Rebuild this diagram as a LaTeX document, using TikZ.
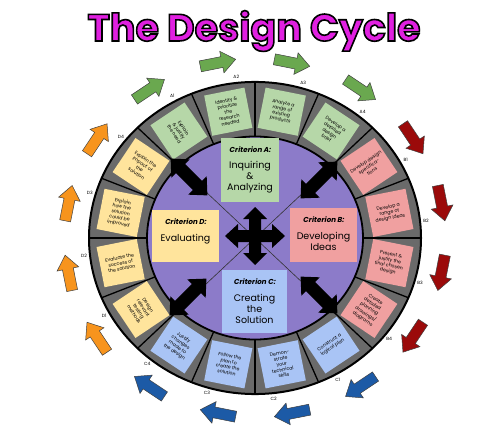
\documentclass[tikz,border=0pt]{standalone}
\usepackage{fontspec}
\setmainfont{Poppins}
\newfontfamily\critfont[FakeSlant=0.2]{Poppins}
\usetikzlibrary{shapes.arrows}
\definecolor{ringgray}{HTML}{6A6A6A}
\definecolor{purp}{HTML}{8C7BC9}
\definecolor{cA}{HTML}{B6D7A8}
\definecolor{cB}{HTML}{F0A0A0}
\definecolor{cC}{HTML}{A9C4F5}
\definecolor{cD}{HTML}{FFE49C}
\definecolor{aA}{HTML}{6AA84F}
\definecolor{aB}{HTML}{9B0A0A}
\definecolor{aC}{HTML}{1C5AA6}
\definecolor{aD}{HTML}{F7941D}
\definecolor{titlemag}{HTML}{E020E0}
\tikzset{
  titletext/.style={font=\fontsize{38}{42}\selectfont\bfseries, inner sep=0},
  card/.style={minimum width=41pt, minimum height=41pt, inner sep=0},
  cardtext/.style={font=\fontsize{4.7}{5.6}\selectfont, align=center, inner sep=0},
  outarrow/.style={draw=black!75, line width=0.5pt},
  steplabel/.style={font=\fontsize{4.5}{5}\selectfont, inner sep=0},
  critbox/.style={inner sep=0},
  crittext/.style={align=center, inner sep=0, font=\fontsize{9.5}{11}\selectfont},
  bigarrow/.style={fill=black},
}
\newcommand\crit[1]{{\critfont\bfseries\fontsize{7.2}{8}\selectfont Criterion #1:}}
\newcommand\strokedtext[1]{\special{pdf:literal direct 0 0 0 RG 1.6 w 2 Tr}#1\special{pdf:literal direct 0 Tr}}
\begin{document}
\begin{tikzpicture}[x=1pt,y=1pt]
\useasboundingbox (0,0) rectangle (500,437);
% title
\node[titletext, text=titlemag] (title) at (254,406) {\strokedtext{The Design Cycle}};

\begin{scope}[shift={(255,199)}, yscale=0.94]
  \fill[ringgray] (0,0) circle (166);
  \foreach \a in {0,22.5,...,337.5}
    \draw[line width=1.3pt] (\a:108) -- (\a:166);
  \draw[line width=2pt] (0,0) circle (166);
  % cards
  \foreach \a/\col/\tr/\txt [count=\i] in {
    123.75/cA/-56.25/{Explain\\\& justify\\the need},
    101.25/cA/11.25/{Identify \&\\prioritize\\the\\research\\needed},
    78.75/cA/-11.25/{Analyze a\\range of\\existing\\products},
    56.25/cA/-33.75/{Develop a\\detailed\\design\\brief},
    33.75/cB/33.75/{Develop design\\specifica-\\tions},
    11.25/cB/11.25/{Develop a\\range of\\design ideas},
    -11.25/cB/-11.25/{Present \&\\justify the\\final chosen\\design},
    -33.75/cB/-33.75/{Create\\detailed\\planning\\drawings/\\diagrams},
    -56.25/cC/33.75/{Construct a\\logical plan},
    -78.75/cC/11.25/{Demon-\\strate\\your\\technical\\skills},
    -101.25/cC/-11.25/{Follow the\\plan to\\create the\\solution},
    -123.75/cC/-33.75/{Justify\\changes\\made to\\the design},
    -146.25/cD/-56.25/{Design\\relevant\\testing\\methods},
    -168.75/cD/11.25/{Evaluate the\\success of\\the solution},
    168.75/cD/-11.25/{Explain\\how the\\solution\\could be\\improved},
    146.25/cD/-33.75/{Explain the\\impact of\\the\\solution}}
  {
    \node[card, fill=\col, rotate=\a-90] (card\i) at (\a:137) {};
    \node[cardtext, rotate=\tr] (cardtxt\i) at (card\i.center) {\txt};
  }
  % labels
  \foreach \a/\lab in {
    123.75/A1, 101.25/A2, 78.75/A3, 56.25/A4,
    33.75/B1, 11.25/B2, -11.25/B3, -33.75/B4,
    -56.25/C1, -78.75/C2, -101.25/C3, -123.75/C4,
    -146.25/D1, -168.75/D2, 168.75/D3, 146.25/D4}
    \node[steplabel] (lab\lab) at (\a-5:172) {\lab};
  % center circle
  \fill[purp] (0,0) circle (108);
  \draw[line width=1.8pt] (0,0) circle (108);
  \coordinate (ne) at (45:108);
  \coordinate (sw) at (225:108);
  \coordinate (nw) at (135:108);
  \coordinate (se) at (315:108);
  \draw[line width=0.6pt, black!80] (ne) -- (sw);
  \draw[line width=0.6pt, black!80] (nw) -- (se);
\end{scope}

% outer block arrows
\foreach \a/\col in {
    123.75/aA, 101.25/aA, 78.75/aA, 56.25/aA,
    33.75/aB, 11.25/aB, -11.25/aB, -33.75/aB,
    -56.25/aC, -78.75/aC, -101.25/aC, -123.75/aC,
    -146.25/aD, -168.75/aD, 168.75/aD, 146.25/aD}
{
  \begin{scope}[shift={({255+190*cos(\a)},{199+0.94*190*sin(\a)})}, rotate=\a-90]
    \draw[outarrow, fill=\col] (-18,-5.5) -- (4,-5.5) -- (4,-11) -- (18,0)
      -- (4,11) -- (4,5.5) -- (-18,5.5) -- cycle;
  \end{scope}
}

\begin{scope}[shift={(255,199)}]
  \node[critbox, fill=cA, minimum width=58pt, minimum height=64pt] (boxA) at (-5,68) {};
  \node[critbox, fill=cB, minimum width=67pt, minimum height=54pt] (boxB) at (68.5,3) {};
  \node[critbox, fill=cC, minimum width=65pt, minimum height=63pt] (boxC) at (-0.5,-63.5) {};
  \node[critbox, fill=cD, minimum width=67pt, minimum height=52pt] (boxD) at (-69.5,2) {};
  \node[crittext] (tA) at (boxA.center) {\crit{A}\\[5pt] Inquiring\\\&\\Analyzing};
  \node[crittext] (tB) at ([yshift=1.5pt]boxB.center) {\crit{B}\\[6pt] Developing\\Ideas};
  \node[crittext] (tC) at (boxC.center) {\crit{C}\\[6pt] Creating\\the\\Solution};
  \node[crittext] (tD) at ([yshift=5pt]boxD.center) {\crit{D}\\[6pt] Evaluating};
  % diagonal double arrows
  \foreach \x/\y/\r in {-66/61/-45, 64/58/45, -67/-59/45, 64/-57/-45}
  {
    \begin{scope}[shift={(\x,\y)}, rotate=\r]
      \fill[bigarrow] (-26,0) -- (-12,-13) -- (-12,-6.5) -- (12,-6.5) -- (12,-13) -- (26,0)
        -- (12,13) -- (12,6.5) -- (-12,6.5) -- (-12,13) -- cycle;
    \end{scope}
  }
  % four-way arrow
  \begin{scope}[shift={(0,2)}]
    \fill[bigarrow] (-30,0) -- (-17,-12) -- (-17,-6) -- (-6,-6) -- (-6,-17) -- (-12,-17)
      -- (0,-29) -- (12,-17) -- (6,-17) -- (6,-6) -- (17,-6) -- (17,-12) -- (30,0)
      -- (17,12) -- (17,6) -- (6,6) -- (6,17) -- (12,17) -- (0,29) -- (-12,17)
      -- (-6,17) -- (-6,6) -- (-17,6) -- (-17,12) -- cycle;
  \end{scope}
\end{scope}
\end{tikzpicture}
\end{document}
